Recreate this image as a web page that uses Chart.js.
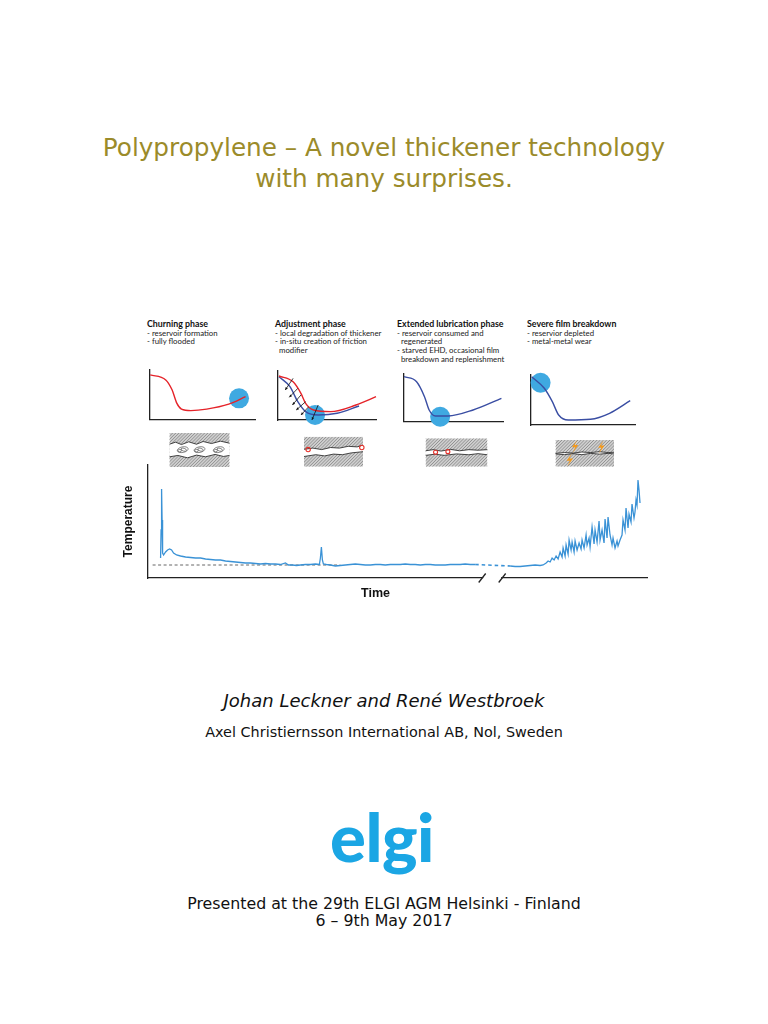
<!DOCTYPE html>
<html>
<head>
<meta charset="utf-8">
<title>Polypropylene – A novel thickener technology with many surprises.</title>
<script src="https://cdn.jsdelivr.net/npm/chart.js@4.4.1/dist/chart.umd.min.js"></script>
<style>
    html, body { margin: 0; padding: 0; background: #fff; }
    body { width: 768px; height: 1024px; position: relative; overflow: hidden; font-family: "DejaVu Sans", Verdana, sans-serif; }
    .txt { position: absolute; white-space: nowrap; }
    .centre { left: 0; width: 768px; text-align: center; }
    .title { top: 131.5px; font-size: 24.7px; line-height: 31px; color: #9b8b2a; }
    .authors { top: 689.5px; font-size: 18px; line-height: 22px; font-style: italic; color: #111; }
    .affil { top: 723.5px; font-size: 14.4px; line-height: 17px; color: #111; }
    .presented { top: 895px; font-size: 15.8px; line-height: 17px; color: #111; }
    .logo { top: 802.6px; font-family: Lato, sans-serif; font-weight: 900; font-size: 67px; line-height: 67px; color: #1ba6e4; letter-spacing: -0.5px; }
    .phase { font-family: Lato, "Open Sans", sans-serif; font-size: 7.8px; line-height: 8.7px; color: #222; top: 320px; }
    .phase b { font-weight: 700; font-size: 8.8px; color: #111; }
    .phase .ind { padding-left: 4px; }
    .axis-title { font-family: "Liberation Sans", Arial, sans-serif; font-weight: 700; font-size: 12.5px; color: #111; }
    canvas { position: absolute; }
</style>
</head>
<body>

<div class="txt centre title">Polypropylene – A novel thickener technology<br>with many surprises.</div>

<div class="txt phase" style="left:147px">
    <div><b>Churning phase</b></div>
    <div>- reservoir formation</div>
    <div>- fully flooded</div>
</div>
<div class="txt phase" style="left:275px">
    <div><b>Adjustment phase</b></div>
    <div>- local degradation of thickener</div>
    <div>- in-situ creation of friction</div>
    <div class="ind">modifier</div>
</div>
<div class="txt phase" style="left:397px">
    <div><b>Extended lubrication phase</b></div>
    <div>- reservoir consumed and</div>
    <div class="ind">regenerated</div>
    <div>- starved EHD, occasional film</div>
    <div class="ind">breakdown and replenishment</div>
</div>
<div class="txt phase" style="left:527px">
    <div><b>Severe film breakdown</b></div>
    <div>- reservior depleted</div>
    <div>- metal-metal wear</div>
</div>

<canvas id="phase1" width="125" height="112" style="left:140px; top:360px; width:125px; height:112px"></canvas>
<canvas id="phase2" width="118" height="112" style="left:268px; top:360px; width:118px; height:112px"></canvas>
<canvas id="phase3" width="119" height="112" style="left:394px; top:360px; width:119px; height:112px"></canvas>
<canvas id="phase4" width="124" height="112" style="left:521px; top:360px; width:124px; height:112px"></canvas>

<canvas id="trend" width="560" height="150" style="left:100px; top:455px; width:560px; height:150px"></canvas>
<div class="txt axis-title" style="left:361px; top:586px">Time</div>

<div class="txt centre authors">Johan Leckner and René Westbroek</div>
<div class="txt centre affil">Axel Christiernsson International AB, Nol, Sweden</div>

<div class="txt logo" style="left:330px">elgi</div>

<div class="txt centre presented">Presented at the 29th ELGI AGM Helsinki - Finland<br>6 – 9th May 2017</div>

<script>
(function (window) {
    'use strict';

    // --- temperature trace (time and temperature in arbitrary units) ---
    const traceTime = [
        2.6, 2.7, 2.8, 2.9, 3.0, 3.2, 3.6, 4.0, 4.4, 4.8, 5.2, 5.8, 6.6, 7.6, 8.6, 9.6,
        10.6, 11.6, 12.6, 13.6, 14.6, 15.6, 16.6, 17.6, 18.6, 19.6, 20.6, 21.6, 22.6, 23.6,
        24.6, 25.6, 26.6, 27.6, 28.2, 29.0, 29.8, 30.6, 31.6, 32.6, 33.6, 34.4, 34.6, 34.8,
        35.0, 35.2, 35.8, 36.6, 37.6, 38.6, 39.6, 40.6, 41.6, 42.6, 43.6, 44.6, 45.6, 46.6,
        47.6, 48.6, 49.6, 50.6, 51.6, 52.6, 53.6, 54.6, 55.6, 56.6, 57.6, 58.6, 59.6, 60.6,
        61.6, 62.6, 63.6, 64.6, 65.6
    ];
    const traceTemp = [
        20, 48, 89, 58, 25, 23, 26, 28, 29, 28, 25, 23, 22, 21, 20.5, 20,
        20, 19, 18.5, 18, 18, 17, 16.5, 16, 15.5, 15, 15, 14.5, 14, 14.5,
        14, 14, 13.5, 15, 13, 13, 12.5, 13, 13.5, 13.5, 14, 13.5, 20, 31,
        18, 14, 13.5, 13, 12, 12.5, 13, 13.5, 14, 13.5, 13, 13, 13.5, 13.5,
        13, 13.5, 13.5, 13.5, 14, 13.5, 13.5, 13, 13.5, 13.5, 13, 13, 13, 13.5,
        13.5, 13.5, 14, 13.5, 13.5
    ];
    const lateTime = [
        72.6, 73.6, 74.6, 75.6, 76.6, 77.6, 78.6, 79.2, 79.8, 80.2, 80.6, 81.0, 81.4, 81.8,
        82.2, 82.6, 83.0, 83.2, 83.6, 83.8, 84.2, 84.4, 84.8, 85.0, 85.4, 85.6, 86.0, 86.4,
        86.8, 87.0, 87.4, 87.8, 88.0, 88.4, 88.6, 89.0, 89.4, 89.6, 90.0, 90.4, 90.6, 91.0,
        91.4, 91.6, 92.0, 92.2, 92.6, 93.0, 93.2, 93.6, 94.0, 94.2, 94.6, 95.0, 95.2, 95.6,
        95.8, 96.2, 96.4, 96.8, 97.0, 97.4, 97.6, 97.8, 98.0, 98.2, 98.4, 98.6
    ];
    const lateTemp = [
        12, 11.5, 11.5, 12, 12.5, 13, 12.5, 13, 15, 17, 16, 20, 18, 22,
        19, 26, 21, 30, 22, 33, 24, 38, 28, 36, 26, 37, 28, 35,
        29, 38, 30, 43, 33, 40, 31, 51, 34, 48, 36, 57, 38, 48,
        35, 59, 40, 61, 43, 33, 40, 30, 37, 32, 38, 43, 58, 48,
        70, 50, 64, 56, 74, 60, 66, 78, 73, 98, 88, 75
    ];
    // the part left out over the axis break, drawn dotted
    const skipTime = [65.6, 72.6];
    const skipTemp = [13.5, 12];
    // starting temperature reference
    const refTime = [1, 38.6];
    const refTemp = [13, 13];
    const breakFrom = 67;
    const breakTo = 71;

    // --- friction sketches of the four phases (x: speed, y: friction, 0..100) ---
    const churnX = [0.2, 15, 21, 25.5, 30, 39, 54, 75, 91];
    const churnY = [90, 80, 60, 33, 21, 18, 21, 31, 46];
    const adjustRedX = [1, 15.4, 23.4, 28.2, 36.3, 53.8, 79.5, 100];
    const adjustRedY = [89.8, 78, 54.5, 34, 20.4, 17, 30.6, 47.6];
    const adjustBlueX = [1, 12.2, 20.2, 28.2, 41, 60.3, 82.7];
    const adjustBlueY = [88.4, 68, 37.3, 17, 10.2, 13.7, 28.6];
    const arrowFromX = [15.4, 20.2, 23.4, 28.2, 31.4, 41];
    const arrowFromY = [85, 64.6, 51, 37.4, 27.2, 30.6];
    const arrowToX = [7.4, 11.5, 14.7, 18.6, 23.4, 34.6];
    const arrowToY = [61.2, 46.3, 30.6, 20.4, 10.2, 0];
    const extendedX = [0, 12.7, 20.7, 25.4, 31.7, 44.5, 69.8, 98.4];
    const extendedY = [93, 82.6, 51.7, 24.2, 11.8, 11.8, 24.2, 48.3];
    const severeX = [0.6, 12.8, 20.5, 26.6, 35.8, 57.2, 75.5, 95.4];
    const severeY = [96.6, 73.4, 46.6, 20, 10, 11.4, 23.4, 48.6];
    // operating point of each phase
    const contactX = [84.8, 37.8, 36.5, 9.2];
    const contactY = [42.8, 10.2, 10.3, 84.6];

    const RED = '#e52329';
    const NAVY = '#3a4ea3';
    const SKY = '#3fa9e1';
    const TRACE = '#3a92d6';

    function toPoints(xs, ys) {
        return xs.map(function (x, i) { return { x: x, y: ys[i] }; });
    }

    function bareScale(min, max) {
        return {
            type: 'linear',
            min: min,
            max: max,
            grid: { display: false, drawTicks: false },
            ticks: { display: false },
            border: { display: true, color: '#222', width: 1.3 },
        };
    }

    // hatched contact block with the lubricant gap, drawn under each sketch
    function drawHatch(ctx, x, y, w, h) {
        ctx.save();
        ctx.beginPath();
        ctx.rect(x, y, w, h);
        ctx.clip();
        ctx.fillStyle = '#cfcfcf';
        ctx.fillRect(x, y, w, h);
        ctx.strokeStyle = '#8a8a8a';
        ctx.lineWidth = 0.9;
        for (let k = -h; k < w + h; k += 3.2) {
            ctx.beginPath();
            ctx.moveTo(x + k, y + h);
            ctx.lineTo(x + k + h, y);
            ctx.stroke();
        }
        ctx.restore();
    }

    function gapPath(ctx, b, upper, lower) {
        ctx.beginPath();
        upper.forEach(function (p, i) {
            const px = b.x + p[0] * b.w, py = b.y + p[1] * b.h;
            if (i === 0) { ctx.moveTo(px, py); } else { ctx.lineTo(px, py); }
        });
        lower.slice().reverse().forEach(function (p) {
            ctx.lineTo(b.x + p[0] * b.w, b.y + p[1] * b.h);
        });
        ctx.closePath();
    }

    function strokeEdge(ctx, b, edge) {
        ctx.beginPath();
        edge.forEach(function (p, i) {
            const px = b.x + p[0] * b.w, py = b.y + p[1] * b.h;
            if (i === 0) { ctx.moveTo(px, py); } else { ctx.lineTo(px, py); }
        });
        ctx.stroke();
    }

    function bolt(ctx, cx, cy) {
        const s = 1.5;
        ctx.beginPath();
        ctx.moveTo(cx + 1.6 * s, cy - 4.5 * s);
        ctx.lineTo(cx - 2 * s, cy + 0.6 * s);
        ctx.lineTo(cx + 0.2 * s, cy + 0.6 * s);
        ctx.lineTo(cx - 1.5 * s, cy + 4.5 * s);
        ctx.lineTo(cx + 2.2 * s, cy - 0.9 * s);
        ctx.lineTo(cx - 0.1 * s, cy - 0.9 * s);
        ctx.closePath();
        ctx.fillStyle = '#f39a1e';
        ctx.fill();
    }

    const blocks = {
        phase1: {
            dx: 19.5, dy: 13.5, w: 60, h: 34,
            upper: [[0, 0.33], [0.1, 0.27], [0.2, 0.34], [0.32, 0.26], [0.45, 0.33], [0.56, 0.25], [0.7, 0.31], [0.85, 0.24], [1, 0.3]],
            lower: [[0, 0.7], [0.14, 0.66], [0.3, 0.73], [0.45, 0.65], [0.6, 0.7], [0.76, 0.63], [0.9, 0.69], [1, 0.66]],
            extra: function (ctx, b) {
                ctx.strokeStyle = '#555';
                ctx.lineWidth = 0.7;
                [0.22, 0.5, 0.82].forEach(function (f) {
                    const cx = b.x + f * b.w, cy = b.y + 0.49 * b.h;
                    ctx.beginPath(); ctx.ellipse(cx, cy, 5.5, 2.8, -0.2, 0, Math.PI * 2); ctx.stroke();
                    ctx.beginPath(); ctx.ellipse(cx + 1, cy, 2.8, 1.4, 0.3, 0, Math.PI * 2); ctx.stroke();
                    ctx.beginPath(); ctx.ellipse(cx - 3, cy + 1, 1.8, 1.2, 0, 0, Math.PI * 2); ctx.stroke();
                });
            },
        },
        phase2: {
            dx: 26, dy: 16.7, w: 59, h: 30,
            upper: [[0, 0.42], [0.15, 0.38], [0.3, 0.43], [0.45, 0.36], [0.6, 0.38], [0.75, 0.32], [0.9, 0.34], [1, 0.28]],
            lower: [[0, 0.66], [0.2, 0.6], [0.35, 0.64], [0.5, 0.58], [0.65, 0.6], [0.8, 0.54], [1, 0.5]],
            extra: function (ctx, b) {
                ctx.strokeStyle = '#e5322b';
                ctx.lineWidth = 1.1;
                [[0.07, 0.43], [0.98, 0.36]].forEach(function (p) {
                    ctx.beginPath(); ctx.arc(b.x + p[0] * b.w, b.y + p[1] * b.h, 2.2, 0, Math.PI * 2); ctx.stroke();
                });
            },
        },
        phase3: {
            dx: 21.7, dy: 16.6, w: 61.6, h: 28.4,
            upper: [[0, 0.44], [0.12, 0.4], [0.25, 0.45], [0.4, 0.39], [0.55, 0.44], [0.7, 0.4], [0.85, 0.42], [1, 0.4]],
            lower: [[0, 0.6], [0.15, 0.56], [0.3, 0.6], [0.5, 0.55], [0.7, 0.58], [0.85, 0.54], [1, 0.58]],
            extra: function (ctx, b) {
                ctx.strokeStyle = '#e5322b';
                ctx.lineWidth = 1.1;
                [[0.16, 0.49], [0.36, 0.47]].forEach(function (p) {
                    ctx.beginPath(); ctx.arc(b.x + p[0] * b.w, b.y + p[1] * b.h, 2, 0, Math.PI * 2); ctx.stroke();
                });
            },
        },
        phase4: {
            dx: 24.6, dy: 15, w: 58.4, h: 26.7,
            upper: [[0, 0.5], [0.15, 0.47], [0.3, 0.49], [0.45, 0.45], [0.6, 0.47], [0.75, 0.44], [0.9, 0.47], [1, 0.46]],
            lower: [[0, 0.52], [0.15, 0.55], [0.3, 0.51], [0.45, 0.55], [0.6, 0.5], [0.75, 0.53], [0.9, 0.5], [1, 0.52]],
            extra: function (ctx, b) {
                bolt(ctx, b.x + 0.33 * b.w, b.y + 0.24 * b.h);
                bolt(ctx, b.x + 0.78 * b.w, b.y + 0.26 * b.h);
                bolt(ctx, b.x + 0.24 * b.w, b.y + 0.74 * b.h);
            },
        },
    };

    const contactBlockPlugin = {
        id: 'contactBlock',
        afterDraw: function (chart) {
            const spec = blocks[chart.canvas.id];
            if (!spec) {
                return;
            }
            const ctx = chart.ctx;
            const area = chart.chartArea;
            const b = { x: area.left + spec.dx, y: area.bottom + spec.dy, w: spec.w, h: spec.h };
            drawHatch(ctx, b.x, b.y, b.w, b.h);
            ctx.save();
            gapPath(ctx, b, spec.upper, spec.lower);
            ctx.fillStyle = '#fff';
            ctx.fill();
            ctx.strokeStyle = '#1a1a1a';
            ctx.lineWidth = 0.8;
            strokeEdge(ctx, b, spec.upper);
            strokeEdge(ctx, b, spec.lower);
            spec.extra(ctx, b);
            ctx.restore();
        },
    };

    const arrowPlugin = {
        id: 'shiftArrows',
        afterDatasetsDraw: function (chart) {
            const xs = chart.scales.x, ys = chart.scales.y, ctx = chart.ctx;
            ctx.save();
            ctx.strokeStyle = '#111';
            ctx.fillStyle = '#111';
            ctx.lineWidth = 0.8;
            for (let i = 0; i < arrowFromX.length; i++) {
                const x0 = xs.getPixelForValue(arrowFromX[i]), y0 = ys.getPixelForValue(arrowFromY[i]);
                const x1 = xs.getPixelForValue(arrowToX[i]), y1 = ys.getPixelForValue(arrowToY[i]);
                const a = Math.atan2(y1 - y0, x1 - x0);
                ctx.beginPath(); ctx.moveTo(x0, y0); ctx.lineTo(x1, y1); ctx.stroke();
                ctx.beginPath();
                ctx.moveTo(x1, y1);
                ctx.lineTo(x1 - 3 * Math.cos(a - 0.45), y1 - 3 * Math.sin(a - 0.45));
                ctx.lineTo(x1 - 3 * Math.cos(a + 0.45), y1 - 3 * Math.sin(a + 0.45));
                ctx.closePath();
                ctx.fill();
            }
            ctx.restore();
        },
    };

    function curve(xs, ys, color) {
        return {
            data: toPoints(xs, ys),
            borderColor: color,
            borderWidth: 1.4,
            pointRadius: 0,
            cubicInterpolationMode: 'monotone',
            clip: false,
        };
    }

    function contactPoint(i) {
        return {
            data: [{ x: contactX[i], y: contactY[i] }],
            showLine: false,
            pointRadius: 10,
            pointHoverRadius: 10,
            pointBackgroundColor: SKY,
            pointBorderWidth: 0,
            clip: false,
        };
    }

    function renderPhase(canvasId, curves, index, padding, extraPlugins) {
        const canvas = document.getElementById(canvasId);
        if (!canvas) {
            return;
        }
        const datasets = curves.slice();
        datasets.push(contactPoint(index));
        new Chart(canvas, {
            type: 'line',
            data: { datasets: datasets },
            options: {
                responsive: false,
                animation: false,
                layout: { padding: padding },
                plugins: { legend: { display: false }, tooltip: { enabled: false } },
                scales: { x: bareScale(0, 100), y: bareScale(0, 100) },
            },
            plugins: [contactBlockPlugin].concat(extraPlugins || []),
        });
    }

    const axisBreakPlugin = {
        id: 'axisBreak',
        afterDraw: function (chart) {
            const xs = chart.scales.x, ctx = chart.ctx;
            const yAxis = chart.chartArea.bottom;
            const g0 = xs.getPixelForValue(breakFrom), g1 = xs.getPixelForValue(breakTo);
            ctx.save();
            ctx.fillStyle = '#fff';
            ctx.fillRect(g0 + 1, yAxis - 3, g1 - g0 - 2, 6);
            ctx.strokeStyle = '#222';
            ctx.lineWidth = 1.3;
            [g0, g1].forEach(function (gx) {
                ctx.beginPath();
                ctx.moveTo(gx - 3.5, yAxis + 4.5);
                ctx.lineTo(gx + 3.5, yAxis - 4.5);
                ctx.stroke();
            });
            ctx.restore();
        },
    };

    function renderTrend() {
        const canvas = document.getElementById('trend');
        if (!canvas) {
            return;
        }
        const yScale = bareScale(0, 113);
        yScale.title = {
            display: true,
            text: 'Temperature',
            color: '#111',
            font: { family: '"Liberation Sans", Arial, sans-serif', size: 12, weight: 'bold' },
            padding: { top: 0, bottom: 12 },
        };
        new Chart(canvas, {
            type: 'line',
            data: {
                datasets: [
                    {
                        label: 'Temperature',
                        data: toPoints(traceTime, traceTemp),
                        borderColor: TRACE,
                        borderWidth: 1.3,
                        pointRadius: 0,
                        tension: 0,
                    },
                    {
                        label: 'Temperature (late)',
                        data: toPoints(lateTime, lateTemp),
                        borderColor: TRACE,
                        borderWidth: 1.3,
                        pointRadius: 0,
                        tension: 0,
                    },
                    {
                        label: 'Omitted',
                        data: toPoints(skipTime, skipTemp),
                        borderColor: TRACE,
                        borderWidth: 1.6,
                        borderDash: [3.5, 3],
                        pointRadius: 0,
                    },
                    {
                        label: 'Start level',
                        data: toPoints(refTime, refTemp),
                        borderColor: '#666',
                        borderWidth: 1,
                        borderDash: [3, 2.5],
                        pointRadius: 0,
                    },
                ],
            },
            options: {
                responsive: false,
                animation: false,
                layout: { padding: { left: 21.2, right: 13, top: 10, bottom: 27 } },
                plugins: { legend: { display: false }, tooltip: { enabled: false } },
                scales: { x: bareScale(0, 100), y: yScale },
            },
            plugins: [axisBreakPlugin],
        });
    }

    function init() {
        if (typeof window.Chart !== 'function') {
            console.error('[elgi-cover] Chart.js not loaded.');
            return;
        }
        renderPhase('phase1', [curve(churnX, churnY, RED)], 0,
            { left: 6.5, right: 7, top: 10, bottom: 52.5 });
        renderPhase('phase2', [curve(adjustRedX, adjustRedY, RED), curve(adjustBlueX, adjustBlueY, NAVY)], 1,
            { left: 6, right: 8, top: 11, bottom: 52 }, [arrowPlugin]);
        renderPhase('phase3', [curve(extendedX, extendedY, NAVY)], 2,
            { left: 6, right: 8, top: 13.3, bottom: 50.3 });
        renderPhase('phase4', [curve(severeX, severeY, NAVY)], 3,
            { left: 6.7, right: 8.3, top: 15, bottom: 47 });
        renderTrend();
    }

    init();
})(window);
</script>
</body>
</html>
